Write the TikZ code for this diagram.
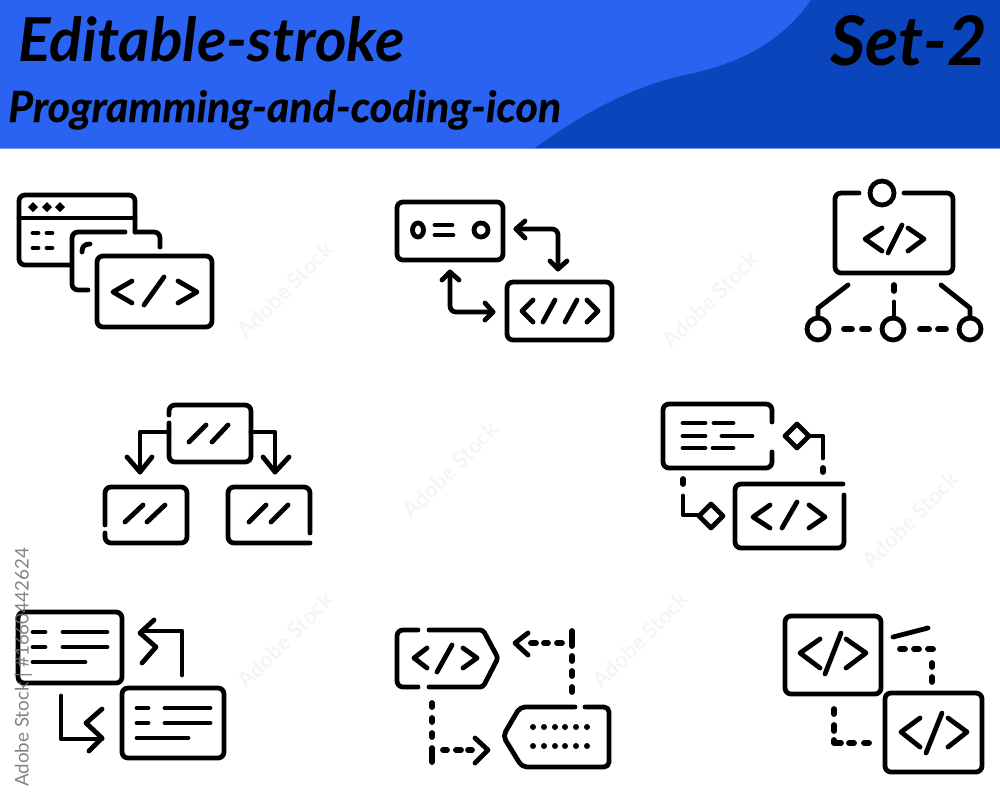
\documentclass[tikz,border=0pt]{standalone}
\usepackage{fontspec}
\setmainfont{Lato}
\newfontfamily\heavyfont{Lato}[BoldItalicFeatures={FakeBold=0.5}]
\definecolor{hdlight}{HTML}{2A63F2}
\definecolor{hddark}{HTML}{0B45BB}
\definecolor{wmfaint}{HTML}{F5F5F5}
\definecolor{wmgray}{HTML}{6E6E6E}
\begin{document}
\begin{tikzpicture}[x=1pt,y=-1pt,
  ln/.style={line width=4.8pt,line cap=round,line join=round,draw=black},
  dsh/.style={line width=5.8pt,line cap=round,line join=round,draw=black},
  box/.style={ln,rounded corners=6pt},
  title/.style={inner sep=0pt,anchor=base west,text=black},
  wm/.style={rotate=45,font=\bfseries\fontsize{22}{22}\selectfont,text=wmfaint,inner sep=0pt}]
\useasboundingbox (0,0) rectangle (1000,800);
% header
\fill[hdlight] (0,0) rectangle (1000,148);
\fill[hddark] (535,148) .. controls (590,108) and (640,84) .. (690,74)
  .. controls (745,62) and (785,38) .. (811,0) -- (1000,0) -- (1000,148) -- cycle;
\draw[line width=1pt,draw=hdlight!70!white] (0,148.5) -- (1000,148.5);
% faint watermarks in the open areas
\foreach \n/\x/\y in {a/285/290,c/450/470,e/710/300,f/285/640,g/910/520,h/640/640}{
  \node[wm] (wm\n) at (\x,\y) {Adobe Stock};
}
% titles
\node[title,font=\bfseries\itshape\fontsize{60.5}{60.5}\selectfont] (t1) at (18,62) {Editable-stroke};
\node[title,font=\heavyfont\bfseries\itshape\fontsize{43}{43}\selectfont] (t2) at (8,122) {Programming-and-coding-icon};
\node[title,font=\bfseries\itshape\fontsize{68.5}{68.5}\selectfont] (t3) at (830,65) {Set-2};
% ---- icon 1
\draw[box] (71,265) -- (19,265) -- (19,195) -- (135,195) -- (135,232);
\draw[box] (135,232) -- (160,232) -- (160,247);
\draw[ln] (19,218) -- (135,218);
\draw[box] (125,232) -- (72,232) -- (72,290) -- (88,290);
\draw[ln] (82,252) .. controls (82,247) and (84,244) .. (90,244);
\foreach \x in {33,47,60}{\fill (\x,202) -- (\x+5,207) -- (\x,212) -- (\x-5,207) -- cycle;}
\foreach \x in {35,49}{\foreach \y in {233,248}{\draw[ln] (\x-2,\y) -- (\x+3,\y);}}
\draw[box] (97,256) rectangle (212,327);
\draw[ln] (132,281) -- (113,292) -- (132,303);
\draw[ln] (144,305) -- (164,277);
\draw[ln] (178,281) -- (197,292) -- (178,303);
% ---- icon 2
\draw[box] (397,202) rectangle (503,260);
\draw[ln] (418,230) ellipse (5.5 and 7);
\draw[ln] (481,230) circle (7);
\draw[ln] (435,225) -- (452,225) (435,235) -- (453,235);
\draw[box] (507,282) rectangle (612,340);
\draw[ln] (533,300) -- (522,311) -- (533,322);
\draw[ln] (543,322) -- (555,300) (565,322) -- (577,300);
\draw[ln] (587,300) -- (598,311) -- (587,322);
\draw[box] (516,229) -- (558,229) -- (558,269);
\draw[ln] (525,221) -- (516,229) -- (525,238);
\draw[ln] (550,261) -- (558,269) -- (567,261);
\draw[box] (450,272) -- (450,312) -- (493,312);
\draw[ln] (442,280) -- (450,272) -- (459,280);
\draw[ln] (485,303) -- (493,312) -- (485,320);
% ---- icon 3
\draw[box] (859,193) -- (835,193) -- (835,273) -- (953,273) -- (953,193) -- (904,193);
\draw[ln] (882,193) circle (12);
\draw[ln] (882,228) -- (865,239) -- (882,251);
\draw[ln] (888,253) -- (902,225);
\draw[ln] (908,228) -- (924,239) -- (908,251);
\draw[ln] (818,329) circle (11) (893,329) circle (11) (970,329) circle (11);
\draw[dsh] (844,329) -- (852,329) (862,329) -- (869,329) (920,329) -- (929,329) (938,329) -- (946,329);
\draw[ln] (848,285) -- (818,308) -- (818,317);
\draw[dsh] (894,285) -- (894,291);
\draw[ln] (894,302) -- (894,317);
\draw[ln] (941,285) -- (970,308) -- (970,317);
% ---- icon 4
\draw[box] (169,415) -- (169,405) -- (251,405) -- (251,462) -- (169,462) -- (169,423);
\draw[ln] (189,442) -- (206,425) (212,442) -- (228,425);
\draw[ln] (169,432) -- (140,432) -- (140,472);
\draw[ln] (127,457) -- (140,472) -- (152,457);
\draw[ln] (251,432) -- (275,432) -- (275,472);
\draw[ln] (263,457) -- (275,472) -- (289,457);
\draw[box] (105,525) -- (105,487) -- (187,487) -- (187,543) -- (105,543) -- (105,533);
\draw[ln] (125,522) -- (143,505) (147,522) -- (165,505);
\draw[box] (310,533) -- (310,487) -- (228,487) -- (228,543) -- (310,543);
\draw[ln] (249,522) -- (266,505) (271,522) -- (288,505);
% ---- icon 5
\draw[box] (772,422) -- (772,404) -- (663,404) -- (663,468) -- (772,468) -- (772,452);
\draw[ln] (683,423) -- (705,423) (714,423) -- (733,423);
\draw[ln] (683,436) -- (705,436) (722,436) -- (752,436);
\draw[ln] (683,448) -- (705,448) (713,448) -- (733,448);
\draw[ln] (797,424) -- (809,436) -- (797,448) -- (785,436) -- cycle;
\draw[ln] (809,436) -- (823,436) -- (823,458);
\draw[dsh] (823,468) -- (823,472);
\draw[box] (843,484) -- (735,484) -- (735,548) -- (844,548) -- (844,495);
\draw[ln] (770,505) -- (753,517) -- (770,528);
\draw[ln] (782,528) -- (797,502);
\draw[ln] (809,505) -- (825,517) -- (809,528);
\draw[dsh] (683,479) -- (683,484);
\draw[ln] (683,496) -- (683,515) -- (699,515);
\draw[ln] (711,504) -- (723,516) -- (711,528) -- (699,516) -- cycle;
% ---- icon 6
\draw[box] (18,612) rectangle (122,683);
\draw[ln] (33,632) -- (45,632) (63,632) -- (107,632);
\draw[ln] (33,647) -- (45,647) (63,647) -- (107,647);
\draw[ln] (33,662) -- (85,662);
\draw[ln] (182,675) -- (182,631) -- (142,631);
\draw[ln] (154,620) -- (140,633) -- (156,647) -- (142,663);
\draw[ln] (61,696) -- (61,739) -- (102,739);
\draw[ln] (102,709) -- (86,723) -- (102,738) -- (89,751);
\draw[box] (122,688) rectangle (224,758);
\draw[ln] (137,708) -- (148,708) (165,708) -- (210,708);
\draw[ln] (137,723) -- (148,723) (165,723) -- (210,723);
\draw[ln] (137,738) -- (188,738);
% ---- icon 7
\draw[box] (418,630) -- (397,630) -- (397,687) -- (418,687);
\draw[ln,rounded corners=3pt] (429,630) -- (483,630) -- (498,658) -- (483,687) -- (429,687);
\draw[ln] (427,648) -- (414,658) -- (427,668);
\draw[ln] (437,672) -- (452,645);
\draw[ln] (463,648) -- (477,658) -- (463,668);
\draw[ln] (528,633) -- (515,643) -- (528,655);
\draw[dsh] (531,643) -- (536,643) (544,643) -- (548,643) (557,643) -- (562,643);
\draw[dsh] (572,631) -- (572,646) (572,656) -- (572,661) (572,671) -- (572,676) (572,687) -- (572,692);
\draw[ln,rounded corners=5pt] (585,707) -- (609,707) -- (609,767) -- (522,767) -- (503,736) -- (520,707) -- (575,707);
\foreach \y in {727,746}{\foreach \x in {533,544,555,565,576,587}{\fill (\x,\y) circle (3);}}
\draw[dsh] (432,703) -- (432,707) (432,718) -- (432,722) (432,733) -- (432,737) (432,748) -- (432,762);
\draw[dsh] (443,750) -- (447,750) (456,750) -- (461,750) (468,750) -- (472,750);
\draw[ln] (475,738) -- (488,750) -- (475,763);
% ---- icon 8
\draw[box] (785,616) rectangle (881,694);
\draw[ln] (820,639) -- (800,653) -- (820,668);
\draw[ln] (825,674) -- (841,633);
\draw[ln] (846,639) -- (866,653) -- (846,668);
\draw[ln] (893,637) -- (928,628);
\draw[dsh] (900,649) -- (905,649) (914,649) -- (919,649) (928,649) -- (933,649);
\draw[dsh] (932,663) -- (932,667) (932,677) -- (932,682);
\draw[box] (885,693) rectangle (982,772);
\draw[ln] (920,718) -- (901,732) -- (920,747);
\draw[ln] (926,753) -- (942,713);
\draw[ln] (948,718) -- (967,732) -- (948,747);
\draw[dsh] (834,709) -- (834,714) (834,725) -- (834,731) (834,740) -- (834,743) -- (841,743) (849,743) -- (854,743) (864,743) -- (869,743);
% side label
\node[rotate=90,anchor=west,inner sep=0pt,font=\fontsize{18.8}{18.8}\selectfont,text=wmgray,opacity=.85] (side) at (23,787) {Adobe Stock | \#1660442624};
\end{tikzpicture}
\end{document}
